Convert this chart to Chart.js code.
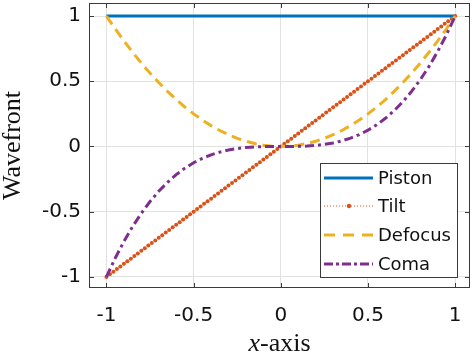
<!DOCTYPE html>
<html><head><meta charset="utf-8">
<script src="https://cdn.jsdelivr.net/npm/chart.js@4.4.0/dist/chart.umd.min.js"></script>
<style>html,body{margin:0;padding:0;background:#fff;overflow:hidden}#wrap{width:474px;height:357px}</style>
</head><body><div id="wrap"><canvas id="c" width="474" height="357"></canvas></div>
<script>
const seriesNames = ['Piston', 'Tilt', 'Defocus', 'Coma'];
const xPiston = [-1, 1];
const pistonValues = [1, 1];
const xTilt = [-1,-0.98,-0.96,-0.94,-0.92,-0.9,-0.88,-0.86,-0.84,-0.82,
  -0.8,-0.78,-0.76,-0.74,-0.72,-0.7,-0.68,-0.66,-0.64,-0.62,
  -0.6,-0.58,-0.56,-0.54,-0.52,-0.5,-0.48,-0.46,-0.44,-0.42,
  -0.4,-0.38,-0.36,-0.34,-0.32,-0.3,-0.28,-0.26,-0.24,-0.22,
  -0.2,-0.18,-0.16,-0.14,-0.12,-0.1,-0.08,-0.06,-0.04,-0.02,
  0,0.02,0.04,0.06,0.08,0.1,0.12,0.14,0.16,0.18,
  0.2,0.22,0.24,0.26,0.28,0.3,0.32,0.34,0.36,0.38,
  0.4,0.42,0.44,0.46,0.48,0.5,0.52,0.54,0.56,0.58,
  0.6,0.62,0.64,0.66,0.68,0.7,0.72,0.74,0.76,0.78,
  0.8,0.82,0.84,0.86,0.88,0.9,0.92,0.94,0.96,0.98,1];
const tiltValues = [-1,-0.98,-0.96,-0.94,-0.92,-0.9,-0.88,-0.86,-0.84,-0.82,
  -0.8,-0.78,-0.76,-0.74,-0.72,-0.7,-0.68,-0.66,-0.64,-0.62,
  -0.6,-0.58,-0.56,-0.54,-0.52,-0.5,-0.48,-0.46,-0.44,-0.42,
  -0.4,-0.38,-0.36,-0.34,-0.32,-0.3,-0.28,-0.26,-0.24,-0.22,
  -0.2,-0.18,-0.16,-0.14,-0.12,-0.1,-0.08,-0.06,-0.04,-0.02,
  0,0.02,0.04,0.06,0.08,0.1,0.12,0.14,0.16,0.18,
  0.2,0.22,0.24,0.26,0.28,0.3,0.32,0.34,0.36,0.38,
  0.4,0.42,0.44,0.46,0.48,0.5,0.52,0.54,0.56,0.58,
  0.6,0.62,0.64,0.66,0.68,0.7,0.72,0.74,0.76,0.78,
  0.8,0.82,0.84,0.86,0.88,0.9,0.92,0.94,0.96,0.98,1];
const xCurve = [-1,-0.95,-0.9,-0.85,-0.8,-0.75,-0.7,-0.65,-0.6,-0.55,
  -0.5,-0.45,-0.4,-0.35,-0.3,-0.25,-0.2,-0.15,-0.1,-0.05,
  0,0.05,0.1,0.15,0.2,0.25,0.3,0.35,0.4,0.45,
  0.5,0.55,0.6,0.65,0.7,0.75,0.8,0.85,0.9,0.95,1];
const defocusValues = [1,0.9025,0.81,0.7225,0.64,0.5625,0.49,0.4225,0.36,0.3025,
  0.25,0.2025,0.16,0.1225,0.09,0.0625,0.04,0.0225,0.01,0.0025,
  0,0.0025,0.01,0.0225,0.04,0.0625,0.09,0.1225,0.16,0.2025,
  0.25,0.3025,0.36,0.4225,0.49,0.5625,0.64,0.7225,0.81,0.9025,1];
const comaValues = [-1,-0.857,-0.729,-0.614,-0.512,-0.422,-0.343,-0.275,-0.216,-0.166,
  -0.125,-0.091,-0.064,-0.043,-0.027,-0.016,-0.008,-0.003,-0.001,-0.0001,
  0,0.0001,0.001,0.003,0.008,0.016,0.027,0.043,0.064,0.091,
  0.125,0.166,0.216,0.275,0.343,0.422,0.512,0.614,0.729,0.857,1];
const xTicks = [-1, -0.5, 0, 0.5, 1];
const yTicks = [-1, -0.5, 0, 0.5, 1];
const yTitle = 'Wavefront';
const xTitleParts = ['x', '-axis'];

const pts = (xs, ys) => xs.map((x, i) => ({x: x, y: ys[i]}));

const FRAME = '#3a3a3a';
const bgPlugin = {
  id: 'bg',
  beforeDraw(chart) {
    const c = chart.ctx;
    c.save(); c.fillStyle = '#fff'; c.fillRect(0, 0, chart.width, chart.height); c.restore();
  }
};
const framePlugin = {
  id: 'frame',
  afterDatasetsDraw(chart) {
    const c = chart.ctx, a = chart.chartArea;
    const xs = chart.scales.x, ys = chart.scales.y;
    c.save();
    c.strokeStyle = FRAME; c.lineWidth = 1; c.setLineDash([]);
    c.strokeRect(a.left + 0.5, a.top + 0.5, a.right - a.left - 1, a.bottom - a.top - 1);
    const L = 5;
    c.beginPath();
    xTicks.forEach(v => {
      const px = Math.round(xs.getPixelForValue(v)) + 0.5;
      c.moveTo(px, a.bottom); c.lineTo(px, a.bottom - L);
      c.moveTo(px, a.top); c.lineTo(px, a.top + L);
    });
    yTicks.forEach(v => {
      const py = Math.round(ys.getPixelForValue(v)) + 0.5;
      c.moveTo(a.left, py); c.lineTo(a.left + L, py);
      c.moveTo(a.right, py); c.lineTo(a.right - L, py);
    });
    c.stroke();
    c.restore();
  }
};
const legendPlugin = {
  id: 'boxLegend',
  afterDraw(chart) {
    const c = chart.ctx;
    const bx = 320, by = 163, bw = 137, bh = 114;
    c.save();
    c.fillStyle = '#fff';
    c.fillRect(bx, by, bw, bh);
    c.strokeStyle = FRAME; c.lineWidth = 1; c.setLineDash([]);
    c.strokeRect(bx + 0.5, by + 0.5, bw, bh);
    const rows = [178, 206, 235, 264];
    chart.data.datasets.forEach((ds, i) => {
      const y = rows[i];
      c.strokeStyle = ds.borderColor;
      c.lineWidth = ds.borderWidth;
      c.setLineDash(ds.legendDash || ds.borderDash || []);
      c.beginPath(); c.moveTo(324, y); c.lineTo(373, y); c.stroke();
      if (ds.pointRadius > 0) {
        c.setLineDash([]);
        c.fillStyle = ds.pointBackgroundColor;
        c.beginPath(); c.arc(349, y, 2.2, 0, Math.PI * 2); c.fill();
      }
      c.setLineDash([]);
      c.fillStyle = '#111';
      c.font = '18px "DejaVu Sans"';
      c.textBaseline = 'middle'; c.textAlign = 'left';
      c.fillText(ds.label, 378, y + 1);
    });
    const a = chart.chartArea;
    const cx = (a.left + a.right) / 2;
    c.fillStyle = '#111';
    c.textBaseline = 'alphabetic';
    c.font = 'italic 26px "Liberation Serif"';
    const w1 = c.measureText(xTitleParts[0]).width;
    c.font = '26px "Liberation Serif"';
    const w2 = c.measureText(xTitleParts[1]).width;
    const sx = cx - (w1 + w2) / 2;
    c.font = 'italic 26px "Liberation Serif"';
    c.fillText(xTitleParts[0], sx, 351);
    c.font = '26px "Liberation Serif"';
    c.fillText(xTitleParts[1], sx + w1, 351);
    c.restore();
  }
};

new Chart(document.getElementById('c'), {
  type: 'line',
  data: {
    datasets: [
      { label: seriesNames[0], data: pts(xPiston, pistonValues), borderColor: '#0072BD', borderWidth: 3,
        pointRadius: 0, order: 4 },
      { label: seriesNames[1], data: pts(xTilt, tiltValues), borderColor: '#D95319', borderWidth: 1,
        borderDash: [1, 2], pointRadius: 2, pointBorderWidth: 0, pointBackgroundColor: '#D95319',
        pointHoverRadius: 0, order: 3 },
      { label: seriesNames[2], data: pts(xCurve, defocusValues), borderColor: '#EDB120', borderWidth: 3,
        borderDash: [10, 6], legendDash: [11, 8], pointRadius: 0, order: 2 },
      { label: seriesNames[3], data: pts(xCurve, comaValues), borderColor: '#7E2F8E', borderWidth: 3,
        borderDash: [9, 4, 3, 4], legendDash: [9, 3, 3, 3], pointRadius: 0, order: 1 }
    ]
  },
  options: {
    responsive: false, animation: false, devicePixelRatio: 1,
    layout: { padding: { left: 0, top: 3, right: 4, bottom: 0 } },
    plugins: { legend: { display: false }, tooltip: { enabled: false } },
    elements: { line: { tension: 0 } },
    scales: {
      x: {
        type: 'linear', min: -1.1, max: 1.085,
        afterBuildTicks: s => { s.ticks = xTicks.map(v => ({value: v})); },
        afterFit: s => { s.height = 69; s.paddingLeft = 0; s.paddingRight = 0; },
        grid: { color: '#e2e2e2', drawTicks: false },
        border: { display: false },
        ticks: { padding: 16, color: '#111', font: { family: 'DejaVu Sans', size: 20 },
          maxRotation: 0, callback: v => String(v) },
        title: { display: false }
      },
      y: {
        type: 'linear', min: -1.085, max: 1.1,
        afterBuildTicks: s => { s.ticks = yTicks.map(v => ({value: v})); },
        afterFit: s => { s.width = 89; s.paddingTop = 0; s.paddingBottom = 0; },
        grid: { color: '#e2e2e2', drawTicks: false },
        border: { display: false },
        ticks: { padding: 8, color: '#111', font: { family: 'DejaVu Sans', size: 20 },
          callback: v => String(v) },
        title: { display: true, text: yTitle, color: '#111', padding: { top: 0, bottom: 0 },
          font: { family: 'Liberation Serif', size: 26, lineHeight: 1 } }
      }
    }
  },
  plugins: [bgPlugin, framePlugin, legendPlugin]
});
</script></body></html>
